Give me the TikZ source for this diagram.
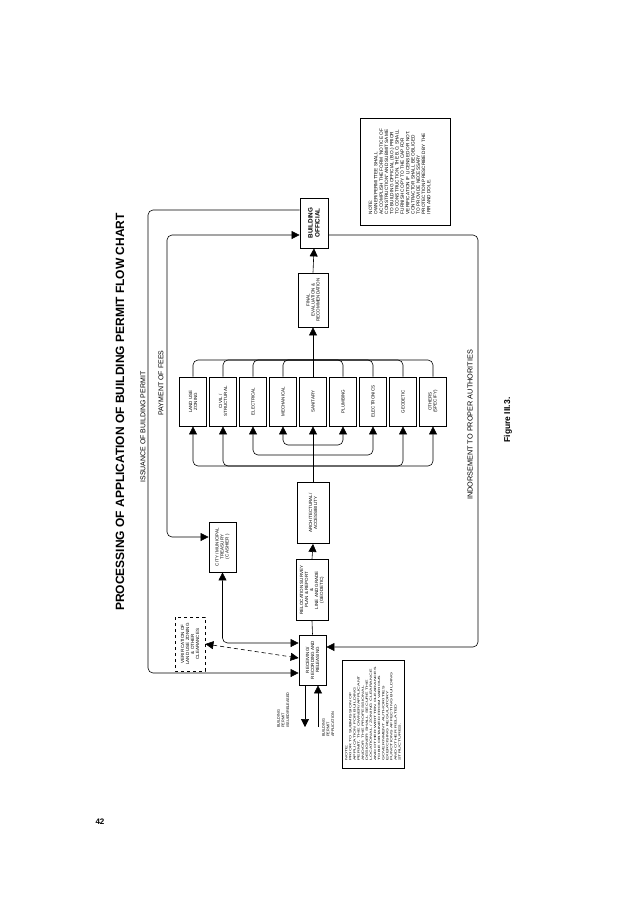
\documentclass[tikz,border=0pt]{standalone}
\usepackage{fontspec}
\setmainfont{Liberation Sans}
\usetikzlibrary{arrows.meta}
\begin{document}
\begin{tikzpicture}[x=1pt,y=-1pt,
  box/.style={draw,line width=0.8pt,rotate=90,align=center,inner sep=1pt,font=\fontsize{4.5}{5}\selectfont},
  ln/.style={line width=0.6pt,rounded corners=5pt},
  tip/.style={-{Triangle[length=8pt,width=8pt]}},
  both/.style={{Triangle[length=8pt,width=8pt]}-{Triangle[length=8pt,width=8pt]}},
  lab/.style={rotate=90,inner sep=0pt}]
\useasboundingbox (0,0) rectangle (638,902);
\fill[white] (0,0) rectangle (638,902);
% titles
\node[lab,font=\bfseries\fontsize{12}{14}\selectfont] (title) at (120,412) {PROCESSING OF APPLICATION OF BUILDING PERMIT FLOW CHART};
\node[lab,font=\fontsize{7}{8}\selectfont] (iss) at (143,427) {ISSUANCE OF BUILDING PERMIT};
\node[lab,font=\fontsize{7}{8}\selectfont] (pay) at (161,383) {PAYMENT OF FEES};
\node[lab,font=\fontsize{7.3}{8}\selectfont] (ind) at (470,425) {INDORSEMENT TO PROPER AUTHORITIES};
\node[lab,font=\bfseries\fontsize{8.5}{10}\selectfont] (fig) at (508,420) {Figure III.3.};
\node[font=\bfseries\fontsize{8}{10}\selectfont] (pg) at (100,822) {42};
% boxes (minimum width = page height, minimum height = page width)
\node[box,minimum width=50pt,minimum height=28pt,font=\bfseries\fontsize{6.3}{7}\selectfont] (bo) at (314,223) {BUILDING\\OFFICIAL};
\node[box,minimum width=54pt,minimum height=30pt] (final) at (313,300) {FINAL\\EVALUATION \&\\RECOMMENDATION};
\foreach \n/\t [count=\i from 0] in {land/{LAND USE\\ZONING}, civil/{CIVIL /\\STRUCTURAL}, elec/ELECTRICAL, mech/MECHANICAL, san/SANITARY, plumb/PLUMBING, elcs/ELECTRONICS, geo/GEODETIC, oth/{OTHERS\\(SPECIFY)}}
  \node[box,minimum width=49pt,minimum height=27pt] (\n) at (193+30*\i,401.5) {\t};
\node[box,minimum width=61pt,minimum height=32pt] (arch) at (313,513) {ARCHITECTURAL/\\ACCESSIBILITY};
\node[box,minimum width=61pt,minimum height=32pt] (reloc) at (312,590) {RELOCATION SURVEY\\PLAN \& REPORT\\\&\\LINE AND GRADE\\(GEODETIC)};
\node[box,minimum width=50pt,minimum height=27pt] (recv) at (312.5,660) {RECEIVING/\\RECORDING AND\\RELEASING};
\node[box,minimum width=50pt,minimum height=27pt] (treas) at (222.5,547) {CITY / MUNICIPAL\\TREASURY\\( CASHIER )};
\node[box,dashed,minimum width=54pt,minimum height=30pt] (verif) at (190,644) {VERIFICATION OF\\LAND USE ZONING\\\& OTHER\\CLEARANCES};
% notes
\node[box,line width=0.7pt,minimum width=108pt,minimum height=51pt,inner sep=2pt] (note1) at (373,714)
 {\scalebox{1.75}[1]{\begin{tabular}{@{}l@{}}\fontsize{3}{3.1}\selectfont NOTE:\\[-0.9pt]
 \fontsize{3}{3.1}\selectfont PRIOR TO SUBMISSION OF\\[-0.9pt]
 \fontsize{3}{3.1}\selectfont APPLICATION FOR BUILDING\\[-0.9pt]
 \fontsize{3}{3.1}\selectfont PERMIT, THE OWNER/APPLICANT\\[-0.9pt]
 \fontsize{3}{3.1}\selectfont AND/OR THE PROFESSIONAL\\[-0.9pt]
 \fontsize{3}{3.1}\selectfont DESIGNER SHALL SECURE THE\\[-0.9pt]
 \fontsize{3}{3.1}\selectfont LOCATIONAL / ZONING CLEARANCE\\[-0.9pt]
 \fontsize{3}{3.1}\selectfont AND OTHER WRITTEN CLEARANCES\\[-0.9pt]
 \fontsize{3}{3.1}\selectfont TO BE OBTAINED FROM VARIOUS\\[-0.9pt]
 \fontsize{3}{3.1}\selectfont GOVERNMENT AUTHORITIES\\[-0.9pt]
 \fontsize{3}{3.1}\selectfont EXERCISING REGULATORY\\[-0.9pt]
 \fontsize{3}{3.1}\selectfont FUNCTIONS AFFECTING BUILDING\\[-0.9pt]
 \fontsize{3}{3.1}\selectfont AND OTHER RELATED\\[-0.9pt]
 \fontsize{3}{3.1}\selectfont STRUCTURES.\end{tabular}}};
\node[box,line width=0.7pt,minimum width=107pt,minimum height=90pt,inner sep=3pt,align=left,font=\fontsize{4.7}{5.3}\selectfont] (note2) at (405,171.5)
 {NOTE:\\OWNER/PERMITTEE SHALL\\ACCOMPLISH THE FORM "NOTICE OF\\CONSTRUCTION" AND SUBMIT SAME\\TO BUILDING OFFICIAL (B.O.) PRIOR\\TO CONSTRUCTION. THE B.O. SHALL\\FURNISH COPY TO THE CAP FOR\\VERIFICATION IF LICENSED OR NOT.\\CONTRACTOR SHALL BE OBLIGED\\TO PROVIDE NECESSARY\\PROTECTION PRESCRIBED BY THE\\IRR AND DOLE.\\ \\ };
% small labels
\node[lab,anchor=north west,align=left,font=\fontsize{3.8}{4.6}\selectfont] (lbl1) at (277,728) {BUILDING\\PERMIT\\ISSUED/RELEASED};
\node[lab,anchor=north west,align=left,font=\fontsize{3.8}{4.6}\selectfont] (lbl2) at (322,737) {BUILDING\\PERMIT\\APPLICATION};
\coordinate (issEnd) at (305,727);
\coordinate (appStart) at (318,727);
% connectors
\draw[ln,tip] ([yshift=13pt]bo.north) -- (148,210) -- (148,673) -- ([yshift=-13pt]recv.north);
\draw[ln,both] ([yshift=10pt]treas.north) -- (167,537) -- (167,235) -- ([yshift=-12pt]bo.north);
\draw[ln,both] (treas.west) -- (222.5,643) -- ([yshift=17pt]recv.north);
\draw[line width=0.6pt,dash pattern=on 4pt off 3pt,both] (verif.south) -- ([yshift=2pt]recv.north);
\draw[ln,tip] ([xshift=-7.5pt]recv.west) -- (issEnd);
\draw[ln,tip] (appStart) -- ([xshift=5.5pt]recv.west);
\draw[ln,tip] ([yshift=-12pt]bo.south) -- (478,235) -- (478,647) -- ([yshift=13pt]recv.south);
\draw[ln] (recv.east) -- (reloc.west);
\draw[ln,tip] (reloc.east) -- (arch.west);
\draw[ln,tip] (final.east) -- (bo.west);
% inputs
\draw[ln] (arch.east) -- (313,445);
\draw[ln,tip] (313,445) -- (san.west);
\foreach \b in {land,civil} \draw[ln,tip] (313,466) -| (\b.west);
\foreach \b in {geo,oth} \draw[ln,tip] (313,466) -| (\b.west);
\foreach \b in {elec,elcs} \draw[ln,tip] (313,455) -| (\b.west);
\foreach \b in {mech,plumb} \draw[ln,tip] (313,445) -| (\b.west);
% outputs
\foreach \b in {land,civil,elec,mech,plumb,elcs,geo,oth} \draw[ln] (\b.east) |- (313,360);
\draw[ln] (san.east) -- (313,360);
\draw[ln,tip] (313,360) -- (final.west);
\end{tikzpicture}
\end{document}
